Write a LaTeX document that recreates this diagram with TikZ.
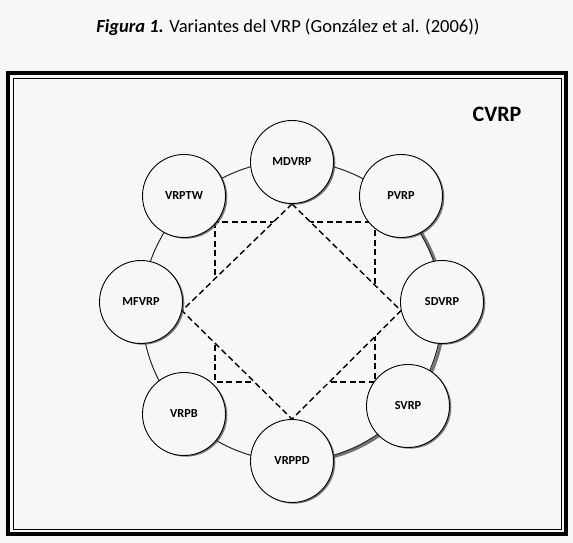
\documentclass[tikz,border=0pt]{standalone}
\usepackage{fontspec}
\setmainfont{Carlito}
\usetikzlibrary{shadows}
\definecolor{bg}{RGB}{247,247,247}
\pgfdeclarelayer{back}
\pgfdeclarelayer{mid}
\pgfsetlayers{back,mid,main}
\begin{document}
\begin{tikzpicture}[x=1pt,y=1pt,
  vnode/.style={circle, draw=black, line width=0.9pt, fill=bg, minimum size=83pt, inner sep=0pt,
    font=\fontsize{12.3}{14}\selectfont\bfseries,
    drop shadow={shadow xshift=1.8pt, shadow yshift=-1.2pt, fill=black!70, opacity=0.75}},
  dashline/.style={dash pattern=on 6pt off 3.5pt, line width=1.4pt},
]
\useasboundingbox (0,0) rectangle (573,543);
\begin{pgfonlayer}{back}
\fill[bg] (0,0) rectangle (573,543);
\draw[line width=4pt] (8,9) rectangle (565.5,469.5);
\draw[line width=0.9pt] (13,13.5) rectangle (561,465);
\coordinate (C) at (292,232);
\draw[black!55, line width=3pt] (294,231) ++(45:150) arc[start angle=45, end angle=-88, radius=150];
\draw[black!85, line width=1pt] (C) circle[radius=150];
\end{pgfonlayer}

\node[anchor=base, font=\fontsize{18.5}{22}\selectfont] (title) at (288,510) {\textbf{\textit{Figura 1.}} Variantes del VRP (González et al. (2006))};
\node[anchor=base, font=\fontsize{22}{26}\selectfont\bfseries] (cvrp) at (497,421) {CVRP};

\node[vnode] (MDVRP) at (292,381) {MDVRP};
\node[vnode] (VRPTW) at (184,347) {VRPTW};
\node[vnode] (PVRP) at (401,347) {PVRP};
\node[vnode] (MFVRP) at (141,241) {MFVRP};
\node[vnode] (SDVRP) at (442,241) {SDVRP};
\node[vnode] (VRPB) at (184,129) {VRPB};
\node[vnode] (VRPPD) at (292,82) {VRPPD};
\node[vnode] (SVRP) at (408,137) {SVRP};

\begin{pgfonlayer}{mid}
\draw[dashline] (MDVRP.south) -- (SDVRP.192) -- (VRPPD.north) -- (MFVRP.-12) -- cycle;
\begin{scope}
\clip (0,0) -- (573,0) -- (573,543) -- (0,543) -- cycle
      (MDVRP.south) -- (SDVRP.192) -- (VRPPD.north) -- (MFVRP.-12) -- cycle;
\draw[dashline] (215,321) rectangle (375,161);
\end{scope}
\end{pgfonlayer}
\end{tikzpicture}
\end{document}
